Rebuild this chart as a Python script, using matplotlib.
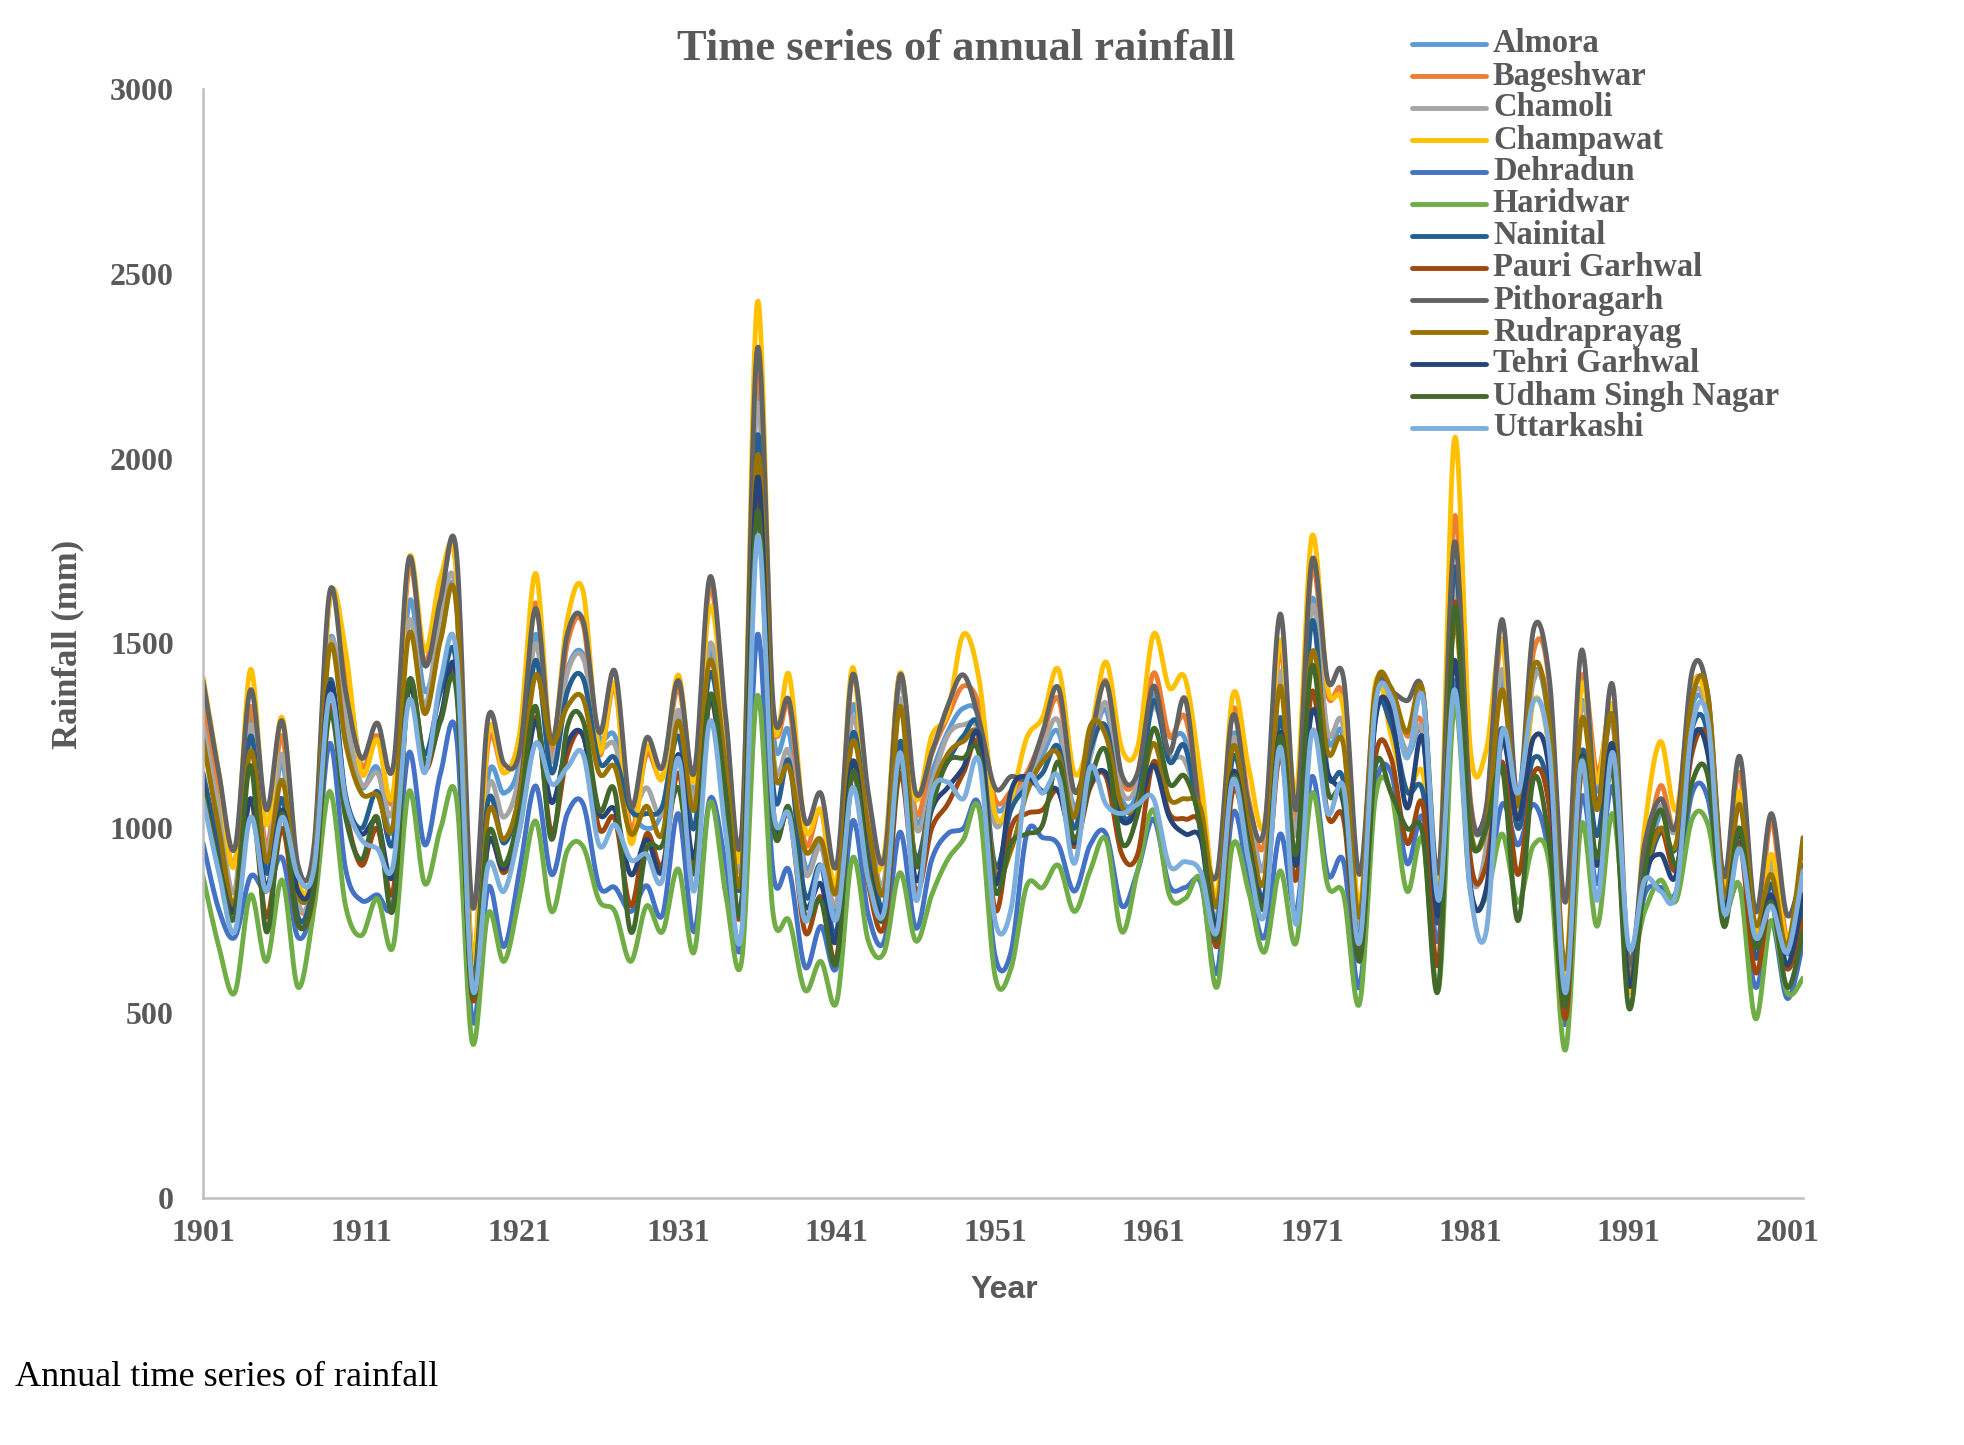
import matplotlib
matplotlib.use("Agg")
import matplotlib.pyplot as plt
from matplotlib.lines import Line2D
import numpy as np

years = list(range(1901, 2003))

almora = [1320, 1050, 780, 1300, 900, 1180, 760, 880, 1510, 1260,
          1110, 1165, 1000, 1610, 1370, 1520, 1610, 600, 1140, 1095,
          1180, 1525, 1230, 1430, 1470, 1250, 1250, 1060, 1000, 1050,
          1300, 1100, 1480, 1200, 930, 2200, 1260, 1260, 900, 960,
          780, 1330, 1050, 840, 1400, 1020, 1150, 1260, 1325, 1300,
          1060, 1080, 1120, 1200, 1260, 1060, 1200, 1320, 1080, 1100,
          1360, 1250, 1240, 1000, 760, 1250, 1060, 900, 1400, 1000,
          1620, 1240, 1240, 700, 1350, 1340, 1200, 1250, 780, 1700,
          1050, 1040, 1400, 1050, 1420, 1260, 560, 1330, 1100, 1280,
          640, 860, 1040, 1000, 1330, 1290, 820, 1080, 690, 920,
          660, 845]
bageshwar = [1340, 1100, 910, 1330, 950, 1250, 800, 900, 1620, 1450,
             1170, 1250, 1080, 1700, 1450, 1640, 1700, 650, 1230, 1150,
             1250, 1610, 1200, 1500, 1550, 1200, 1380, 1000, 1200, 1140,
             1380, 1130, 1650, 1280, 950, 2250, 1300, 1330, 960, 1050,
             830, 1410, 1060, 920, 1420, 1040, 1200, 1300, 1385, 1330,
             1080, 1100, 1150, 1250, 1350, 1100, 1220, 1400, 1130, 1150,
             1420, 1250, 1300, 1050, 800, 1320, 1080, 960, 1480, 1030,
             1700, 1360, 1345, 760, 1360, 1370, 1250, 1275, 820, 1845,
             1080, 1050, 1510, 1030, 1480, 1380, 580, 1400, 1150, 1300,
             620, 900, 1115, 1000, 1380, 1330, 860, 1150, 700, 1020,
             700, 880]
chamoli = [1280, 1050, 830, 1280, 930, 1200, 800, 890, 1500, 1300,
           1120, 1150, 1050, 1560, 1330, 1580, 1620, 620, 1110, 1030,
           1150, 1500, 1180, 1420, 1460, 1230, 1225, 1050, 1110, 1040,
           1320, 1080, 1500, 1220, 920, 2150, 1205, 1205, 880, 950,
           800, 1300, 1000, 860, 1350, 1000, 1120, 1250, 1280, 1260,
           1010, 1080, 1130, 1220, 1290, 1040, 1190, 1340, 1100, 1120,
           1330, 1200, 1180, 1020, 790, 1240, 1040, 900, 1425, 980,
           1600, 1260, 1270, 720, 1370, 1330, 1210, 1260, 800, 1650,
           900, 950, 1430, 1030, 1400, 1300, 560, 1320, 1120, 1290,
           620, 880, 1060, 1000, 1350, 1300, 830, 1095, 700, 900,
           680, 850]
champawat = [1410, 1150, 900, 1430, 1010, 1300, 860, 930, 1620, 1480,
             1150, 1240, 1095, 1730, 1480, 1680, 1690, 640, 1260, 1150,
             1260, 1690, 1230, 1565, 1640, 1210, 1390, 960, 1220, 1135,
             1415, 1125, 1600, 1280, 960, 2425, 1300, 1415, 1000, 1050,
             860, 1435, 960, 930, 1420, 1080, 1250, 1310, 1525, 1400,
             1040, 1080, 1245, 1300, 1430, 1150, 1250, 1450, 1215, 1220,
             1525, 1380, 1405, 1130, 820, 1360, 1165, 1010, 1510, 1095,
             1790, 1380, 1320, 790, 1390, 1250, 1100, 1150, 830, 2055,
             1215, 1210, 1510, 1010, 1345, 1200, 610, 1380, 1125, 1320,
             560, 1000, 1235, 1050, 1385, 1320, 850, 1100, 720, 930,
             700, 900]
dehradun = [960, 780, 705, 870, 830, 920, 705, 820, 1230, 890,
            805, 820, 800, 1205, 955, 1150, 1250, 480, 840, 680,
            890, 1115, 875, 1040, 1065, 845, 840, 775, 845, 765,
            1040, 720, 1080, 900, 690, 1525, 875, 885, 625, 735,
            625, 1020, 765, 695, 990, 730, 915, 985, 1000, 1060,
            655, 665, 985, 975, 955, 830, 955, 985, 790, 885,
            1025, 845, 840, 850, 610, 1040, 860, 705, 985, 775,
            1140, 875, 910, 570, 1100, 1150, 905, 1030, 700, 1400,
            840, 820, 1065, 955, 1065, 915, 470, 1080, 850, 1110,
            600, 820, 840, 830, 1095, 1080, 790, 845, 570, 750,
            540, 690]
haridwar = [870, 680, 555, 820, 640, 860, 570, 780, 1100, 790,
            710, 810, 680, 1100, 850, 1000, 1080, 420, 770, 640,
            820, 1020, 775, 940, 950, 805, 775, 640, 790, 720,
            890, 665, 1070, 820, 640, 1360, 765, 750, 562, 640,
            530, 920, 695, 665, 880, 695, 820, 915, 970, 1050,
            600, 620, 845, 840, 900, 775, 885, 970, 720, 885,
            1050, 820, 810, 860, 570, 955, 830, 665, 885, 690,
            1095, 845, 820, 525, 1080, 1095, 830, 970, 565, 1330,
            830, 815, 985, 800, 955, 900, 400, 1010, 735, 1040,
            640, 775, 860, 805, 1025, 1010, 770, 845, 485, 750,
            555, 595]
nainital = [1150, 950, 780, 1250, 880, 1080, 760, 870, 1400, 1090,
            1000, 1100, 960, 1400, 1200, 1370, 1440, 590, 1075, 960,
            1100, 1455, 1150, 1370, 1405, 1180, 1190, 1050, 1040, 1060,
            1250, 1000, 1420, 1150, 870, 2065, 1110, 1180, 820, 900,
            720, 1255, 980, 790, 1235, 920, 1090, 1180, 1250, 1270,
            900, 1050, 1110, 1150, 1220, 1000, 1210, 1275, 1040, 1080,
            1345, 1180, 1220, 980, 720, 1190, 1000, 820, 1300, 920,
            1560, 1150, 1125, 680, 1300, 1280, 1100, 1100, 760, 1705,
            1050, 1040, 1270, 1000, 1190, 1080, 520, 1200, 980, 1220,
            600, 850, 990, 950, 1270, 1250, 790, 1000, 650, 850,
            620, 790]
pauri = [1120, 900, 790, 1080, 760, 1000, 740, 830, 1330, 1050,
         900, 1000, 830, 1380, 1160, 1300, 1390, 540, 960, 880,
         1000, 1300, 990, 1200, 1250, 1000, 1025, 790, 985, 900,
         1150, 900, 1350, 1050, 790, 1900, 1030, 1040, 720, 815,
         650, 1150, 850, 735, 1150, 830, 1000, 1065, 1150, 1220,
         780, 1000, 1040, 1050, 1100, 950, 1110, 1140, 930, 930,
         1180, 1040, 1025, 1000, 680, 1100, 950, 800, 1200, 860,
         1370, 1035, 1025, 650, 1190, 1190, 960, 1065, 640, 1610,
         920, 900, 1180, 875, 1150, 1050, 485, 1150, 900, 1200,
         580, 880, 1000, 890, 1205, 1230, 780, 960, 610, 820,
         620, 750]
pithoragarh = [1400, 1150, 945, 1375, 1050, 1290, 900, 950, 1640, 1370,
               1190, 1285, 1165, 1730, 1440, 1620, 1745, 790, 1300, 1175,
               1210, 1595, 1235, 1525, 1560, 1260, 1425, 1060, 1245, 1165,
               1400, 1150, 1680, 1300, 985, 2300, 1330, 1345, 1020, 1095,
               900, 1415, 1095, 915, 1415, 1095, 1205, 1330, 1415, 1290,
               1110, 1140, 1140, 1260, 1380, 1100, 1235, 1395, 1145, 1150,
               1385, 1205, 1350, 1010, 875, 1305, 1065, 1000, 1580, 1050,
               1725, 1400, 1405, 875, 1370, 1370, 1345, 1370, 885, 1775,
               1065, 1055, 1565, 1080, 1540, 1400, 800, 1480, 1055, 1385,
               640, 955, 1080, 1010, 1425, 1360, 870, 1195, 775, 1040,
               765, 900]
rudraprayag = [1240, 1000, 800, 1210, 910, 1130, 820, 900, 1490, 1230,
               1095, 1090, 1010, 1525, 1310, 1510, 1600, 580, 1040, 970,
               1095, 1415, 1230, 1330, 1350, 1150, 1165, 985, 1060, 985,
               1290, 1050, 1455, 1165, 875, 2010, 1180, 1165, 940, 970,
               830, 1235, 1000, 830, 1330, 900, 1095, 1200, 1235, 1240,
               880, 940, 1095, 1180, 1200, 1030, 1275, 1250, 1060, 1070,
               1230, 1080, 1080, 1050, 790, 1220, 1010, 860, 1385, 900,
               1475, 1205, 1225, 760, 1370, 1380, 1260, 1370, 790, 1560,
               1000, 1000, 1375, 1060, 1440, 1275, 620, 1290, 1050, 1300,
               600, 870, 1000, 960, 1350, 1360, 820, 1065, 740, 875,
               680, 975]
tehri = [1120, 900, 780, 1080, 840, 1050, 830, 880, 1390, 1080,
         985, 1020, 875, 1380, 1180, 1300, 1410, 560, 960, 890,
         1030, 1290, 1070, 1230, 1250, 1040, 1050, 875, 970, 885,
         1200, 920, 1350, 1080, 800, 1950, 1050, 1040, 790, 850,
         700, 1180, 900, 780, 1200, 860, 1050, 1110, 1165, 1250,
         850, 1100, 1140, 1100, 1100, 960, 1120, 1150, 1020, 1050,
         1170, 1030, 985, 970, 740, 1150, 960, 800, 1260, 900,
         1315, 1150, 1065, 700, 1290, 1315, 1055, 1245, 765, 1455,
         845, 835, 1235, 1025, 1245, 1150, 540, 1190, 900, 1225,
         580, 870, 930, 875, 1235, 1200, 780, 990, 690, 820,
         630, 820]
udham = [1100, 900, 760, 1170, 720, 1040, 740, 840, 1310, 1030,
         915, 1030, 780, 1395, 1180, 1290, 1370, 550, 985, 900,
         1050, 1330, 970, 1275, 1290, 1050, 1100, 720, 945, 955,
         1110, 880, 1360, 1095, 790, 1860, 1010, 1055, 765, 805,
         640, 1150, 885, 760, 1180, 900, 1060, 1180, 1190, 1200,
         830, 960, 985, 1010, 1180, 970, 1130, 1210, 960, 1040,
         1270, 1120, 1140, 1000, 700, 1135, 950, 790, 1250, 930,
         1440, 1100, 1080, 640, 1165, 1095, 1000, 985, 570, 1595,
         985, 1000, 1165, 750, 1135, 955, 520, 1180, 920, 1150,
         515, 880, 1050, 900, 1125, 1140, 735, 1000, 680, 800,
         570, 720]
uttarkashi = [1080, 880, 720, 1030, 830, 1030, 870, 890, 1360, 1080,
              970, 945, 900, 1345, 1150, 1400, 1470, 570, 900, 830,
              1000, 1230, 1120, 1165, 1200, 955, 1010, 915, 930, 860,
              1190, 830, 1290, 985, 720, 1790, 1050, 1035, 750, 900,
              755, 1110, 860, 775, 1205, 805, 1095, 1125, 1080, 1180,
              750, 780, 1130, 1095, 1140, 905, 1165, 1065, 1040, 1065,
              1080, 900, 910, 880, 720, 1130, 915, 765, 1220, 740,
              1260, 1040, 1110, 690, 1330, 1355, 1190, 1355, 805, 1375,
              830, 720, 1260, 1095, 1345, 1205, 555, 1180, 805, 1205,
              680, 860, 830, 830, 1275, 1290, 775, 945, 705, 790,
              665, 885]

names = ["Almora", "Bageshwar", "Chamoli", "Champawat", "Dehradun", "Haridwar",
         "Nainital", "Pauri Garhwal", "Pithoragarh", "Rudraprayag",
         "Tehri Garhwal", "Udham Singh Nagar", "Uttarkashi"]
series = [almora, bageshwar, chamoli, champawat, dehradun, haridwar,
          nainital, pauri, pithoragarh, rudraprayag, tehri, udham, uttarkashi]
colors = ["#5B9BD5", "#ED7D31", "#A5A5A5", "#FFC000", "#4472C4", "#70AD47",
          "#255E91", "#9E480E", "#636363", "#997300", "#264478", "#43682B",
          "#7CAFDD"]


def smooth(xs, ys, n=20):
    # excel style smoothed line (bezier through the points)
    xs = np.asarray(xs, float)
    ys = np.asarray(ys, float)
    m = len(xs)
    outx, outy = [], []
    for i in range(m - 1):
        i0, i3 = max(i - 1, 0), min(i + 2, m - 1)
        p0 = np.array([xs[i], ys[i]])
        p3 = np.array([xs[i + 1], ys[i + 1]])
        p1 = p0 + (p3 - np.array([xs[i0], ys[i0]])) / 6
        p2 = p3 - (np.array([xs[i3], ys[i3]]) - p0) / 6
        t = np.linspace(0, 1, n, endpoint=(i == m - 2))[:, None]
        pts = ((1 - t) ** 3) * p0 + 3 * ((1 - t) ** 2) * t * p1 \
            + 3 * (1 - t) * t ** 2 * p2 + t ** 3 * p3
        outx.extend(pts[:, 0])
        outy.extend(pts[:, 1])
    return outx, outy


grey = "#595959"
serif = "Liberation Serif"

fig = plt.figure(figsize=(19.65, 14.45), dpi=100)
ax = fig.add_axes([203 / 1965, 1 - 1198 / 1445, 1600 / 1965, 1109 / 1445])

for vals, c in zip(series, colors):
    sx, sy = smooth(years, vals)
    ax.plot(sx, sy, color=c, lw=3.5, solid_capstyle="round")

ax.set_xlim(1901, 2002)
ax.set_ylim(0, 3000)
ax.set_xticks(range(1901, 2002, 10))
ax.set_yticks(range(0, 3001, 500))
ax.tick_params(length=0)
ax.tick_params(axis="y", pad=21)
ax.tick_params(axis="x", pad=15)
for lab in ax.get_xticklabels() + ax.get_yticklabels():
    lab.set_fontfamily(serif)
    lab.set_fontweight("bold")
    lab.set_fontsize(23)
    lab.set_color(grey)
for s in ["top", "right"]:
    ax.spines[s].set_visible(False)
for s in ["left", "bottom"]:
    ax.spines[s].set_color("#BFBFBF")
    ax.spines[s].set_linewidth(1.8)

fig.text(956 / 1965, 1 - 49 / 1445, "Time series of annual rainfall",
         ha="center", va="center", fontsize=32, fontweight="bold",
         family=serif, color=grey)
fig.text(68 / 1965, 1 - 644 / 1445, "Rainfall (mm)", rotation=90,
         ha="center", va="center", fontsize=25, fontweight="bold",
         family=serif, color=grey)
fig.text(1004 / 1965, 1 - 1290 / 1445, "Year", ha="center", va="center",
         fontsize=23, fontweight="bold", family="Liberation Sans", color=grey)
fig.text(15 / 1965, 1 - 1378 / 1445, "Annual time series of rainfall",
         ha="left", va="center", fontsize=26, family=serif, color="black")

# legend drawn by hand to get the tight row spacing
for i, (name, c) in enumerate(zip(names, colors)):
    y = 1 - (44 + 32 * i) / 1445
    fig.add_artist(Line2D([1412 / 1965, 1486 / 1965], [y, y],
                          transform=fig.transFigure, color=c, lw=3.5,
                          solid_capstyle="round"))
    fig.text(1493 / 1965, y, name, ha="left", va="center", fontsize=23.5,
             fontweight="bold", family=serif, color=grey)

fig.savefig("out.png", dpi=100)
